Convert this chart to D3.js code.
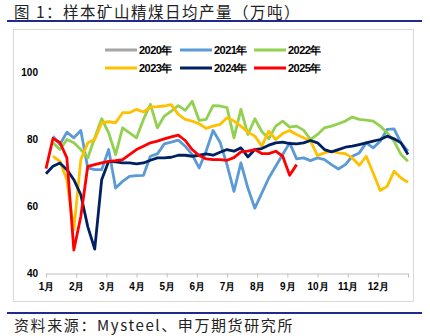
<!DOCTYPE html>
<html><head><meta charset="utf-8">
<script src="https://cdn.jsdelivr.net/npm/d3@7/dist/d3.min.js"></script>
<style>
html,body{margin:0;padding:0;background:#fff;}
svg{display:block;}
</style></head>
<body>
<script>
const title = "图 1：样本矿山精煤日均产量（万吨）";
const source = "资料来源：Mysteel、申万期货研究所";
const monthLabels = ["1月","2月","3月","4月","5月","6月","7月","8月","9月","10月","11月","12月"];
const yTicks = [40, 60, 80, 100];
const seriesNames = ["2020年","2021年","2022年","2023年","2024年","2025年"];
const seriesColors = ["#a5a5a5","#5b9bd5","#92d050","#ffc000","#002060","#ff0000"];
// weekly values (53 weeks), null = no data
const v2020 = [];
const v2021 = [null,81,78.5,82.2,80.5,82.7,71.5,71,71,77,65.5,67.5,69,69.2,69.3,75,75.7,78.7,79.2,79.8,78,75.5,71.5,76.5,82.7,79.2,72.5,64.5,73,65.5,59.5,64,68.5,72,75.5,79,74.2,74.5,73.7,74.5,74,72.5,71.2,72.5,75,76,79,77.5,79.5,83,83.2,79,76.5];
const v2022 = [null,79,77,80,79,77,74.5,80.5,86.2,82,75.5,83.5,82,80.5,86,90.5,83.5,87,88.5,90.1,88.7,91.4,85.7,86,90.1,90,89.5,80.5,89,81.5,86.2,82.4,80.2,84,85.5,83.7,84,82.8,80,81.5,83.5,84,84.7,85.5,86.7,86,85.8,85.5,84,82,79.5,75.5,73.5];
const v2023 = [null,75,73.5,68,53,74,79,80,85,85.3,85,88,88,89,88.2,89.7,89.8,90,90.4,87.5,86,85.5,84.7,83.3,84,84.5,86.5,85.5,84,82.2,81,78,82.5,80,81.8,82.7,81.5,80.5,79.5,75.2,76,76.5,76,75.8,74.5,72.3,75,70,64.8,66,70.5,68.5,67.2];
const v2024 = [69.8,72,73,71,68,63.5,54,47.3,68,73.5,73.3,73,73,72.7,73,73.8,74.5,74.5,74.7,75.3,75.3,75,75.3,75.7,75.3,76.2,77,76.5,77.5,74.8,77,77.3,78.3,79,79.2,78.8,78.7,79,79.7,79,77,76.3,77,77.7,78,78.5,79,79.5,80,81,80.2,79,75.5];
const v2025 = [71.3,80.3,79.1,74.5,47,57,72,72.5,73,73.5,73.7,74,75.5,77,78,79,79.5,80.2,80.8,81.3,79.7,77,75.2,74.2,74,74,73.8,74.6,76.3,76.5,77,75.8,75.8,76.5,75,69.3,72.5];
const seriesValues = [v2020,v2021,v2022,v2023,v2024,v2025];

const W = 430, H = 336;
const svg = d3.select("body").append("svg").attr("width", W).attr("height", H);

// title
svg.append("text").attr("x", 14).attr("y", 18)
  .attr("font-family", "'Noto Sans CJK SC'").attr("font-size", 15.5)
  .attr("letter-spacing", 1.5).attr("fill", "#222").text(title);
svg.append("line").attr("x1", 7).attr("x2", 422).attr("y1", 21).attr("y2", 21)
  .attr("stroke", "#1f2a8c").attr("stroke-width", 2);

// chart frame
svg.append("rect").attr("x", 13.5).attr("y", 29.5).attr("width", 400).attr("height", 272)
  .attr("fill", "none").attr("stroke", "#d9d9d9").attr("stroke-width", 1);

// footer
svg.append("line").attr("x1", 7).attr("x2", 422).attr("y1", 313).attr("y2", 313)
  .attr("stroke", "#1f2a8c").attr("stroke-width", 2);
svg.append("text").attr("x", 14).attr("y", 331)
  .attr("font-family", "'Noto Sans CJK SC'").attr("font-size", 15)
  .attr("letter-spacing", 1.6).attr("fill", "#222").text(source);

// scales
const x = d3.scaleLinear().domain([0, 52]).range([46, 408]);
const xm = d3.scaleLinear().domain([0, 12]).range([46, 408]);
const y = d3.scaleLinear().domain([40, 100]).range([273.5, 72.5]);

// x axis
const xAxis = svg.append("g").attr("transform", "translate(0,273.5)")
  .call(d3.axisBottom(xm).tickValues(d3.range(0, 13)).tickSize(4).tickSizeOuter(0)
    .tickFormat(d => monthLabels[d] || ""));
xAxis.select(".domain").attr("stroke", "#bfbfbf");
xAxis.selectAll(".tick line").attr("stroke", "#bfbfbf");
xAxis.selectAll(".tick text").attr("font-family", "'Liberation Sans', Arial").attr("font-weight", "bold")
  .attr("font-size", 10).attr("fill", "#000").attr("dy", "0.9em");

// y axis
const yAxis = svg.append("g").attr("transform", "translate(38,0)")
  .call(d3.axisLeft(y).tickValues(yTicks).tickSize(0));
yAxis.select(".domain").remove();
yAxis.selectAll(".tick text").attr("font-family", "'Liberation Sans', Arial").attr("font-weight", "bold")
  .attr("font-size", 10).attr("fill", "#000").attr("x", 0);

// lines
const line = d3.line().defined(d => d != null).x((d, i) => x(i)).y(d => y(d));
seriesValues.forEach((vals, k) => {
  if (!vals.length) return;
  svg.append("path").datum(vals).attr("d", line)
    .attr("fill", "none").attr("stroke", seriesColors[k]).attr("stroke-width", 2.8)
    .attr("stroke-linejoin", "round");
});

// legend
const legX = [105, 180, 254];
const legY = [50, 68];
seriesNames.forEach((name, k) => {
  const lx = legX[k % 3], ly = legY[Math.floor(k / 3)];
  svg.append("line").attr("x1", lx).attr("x2", lx + 32).attr("y1", ly).attr("y2", ly)
    .attr("stroke", seriesColors[k]).attr("stroke-width", 3);
  svg.append("text").attr("x", lx + 34).attr("y", ly + 4)
    .attr("font-family", "'Liberation Sans', Arial").attr("font-weight", "bold")
    .attr("font-size", 11).attr("letter-spacing", -0.5).attr("fill", "#000").text(name);
});
</script>
</body></html>
